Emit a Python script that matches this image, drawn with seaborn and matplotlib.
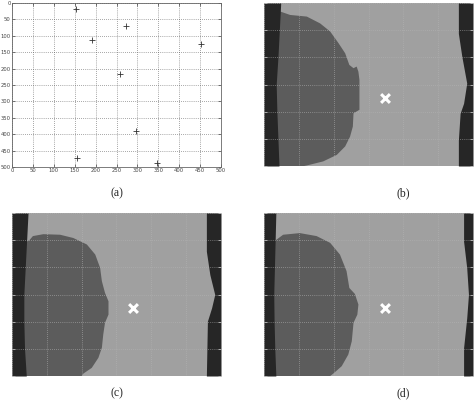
"""Segmentation maps with sample points (four panels)."""
import matplotlib
matplotlib.use("Agg")
import matplotlib.pyplot as plt
import pandas as pd
import seaborn as sns

# (a) sample points, image coordinates
pts_x = [154, 273, 191, 452, 259, 297, 156, 346]
pts_y = [19, 71, 112, 125, 215, 391, 474, 487]
a_ticks = [0, 50, 100, 150, 200, 250, 300, 350, 400, 450, 500]

# region boundaries for (b), (c), (d) in grid units (0..6, y down)
strip_y = [0, 1, 2, 3, 4, 5, 6]
b_left_x = [0.48, 0.44, 0.40, 0.35, 0.37, 0.40, 0.43]
c_left_x = [0.46, 0.42, 0.38, 0.34, 0.34, 0.36, 0.41]
d_left_x = [0.34, 0.32, 0.30, 0.28, 0.29, 0.31, 0.34]

b_right_y = [0, 1.12, 1.97, 2.95, 3.69, 4.06, 5.04, 6]
b_right_x = [5.58, 5.58, 5.68, 5.82, 5.73, 5.63, 5.58, 5.58]
c_right_y = [0, 1.41, 2.27, 3.0, 3.49, 3.98, 6]
c_right_x = [5.58, 5.58, 5.68, 5.82, 5.73, 5.61, 5.58]
d_right_y = [0, 1.04, 2.02, 3.0, 3.86, 4.96, 6]
d_right_x = [5.73, 5.73, 5.82, 5.87, 5.82, 5.73, 5.73]

b_blob_x = [0.1, 0.48, 0.75, 1.23, 1.61, 1.90, 2.14, 2.33, 2.45, 2.57, 2.66, 2.71,
            2.74, 2.74, 2.57, 2.55, 2.47, 2.33, 2.09, 1.70, 1.23, 1.15, 0.1]
b_blob_y = [0.30, 0.32, 0.44, 0.50, 0.75, 1.05, 1.48, 1.85, 2.28, 2.40, 2.34, 2.53,
            2.83, 3.93, 4.06, 4.55, 4.92, 5.28, 5.59, 5.83, 5.98, 6.0, 6.0]
c_blob_x = [0.1, 0.5, 0.6, 0.9, 1.38, 1.76, 2.15, 2.39, 2.53, 2.58, 2.67, 2.77,
            2.77, 2.67, 2.62, 2.58, 2.48, 2.29, 2.05, 2.0, 0.1]
c_blob_y = [1.3, 1.0, 0.85, 0.78, 0.80, 0.92, 1.16, 1.53, 2.02, 2.51, 2.94, 3.25,
            3.74, 4.04, 4.47, 4.96, 5.33, 5.70, 5.91, 6.0, 6.0]
d_blob_x = [0.1, 0.36, 0.55, 1.03, 1.51, 1.90, 2.18, 2.37, 2.45, 2.61, 2.71, 2.68,
            2.57, 2.52, 2.42, 2.23, 1.99, 1.9, 0.1]
d_blob_y = [1.2, 0.98, 0.80, 0.74, 0.85, 1.10, 1.53, 2.14, 2.76, 2.98, 3.37, 3.74,
            4.04, 4.72, 5.21, 5.64, 5.91, 6.0, 6.0]

target_x = [3.48]
target_y = [3.50]

DARK, BLOB, BACK = "#262626", "#5c5c5c", "#a0a0a0"

sns.set_style("ticks")
plt.rcParams["font.family"] = ["DejaVu Sans"]

fig = plt.figure(figsize=(4.74, 4.03), dpi=100)

# panel (a)
ax = fig.add_axes([12 / 474, 1 - 167 / 403, 209 / 474, 164 / 403])
df = pd.DataFrame({"x": pts_x, "y": pts_y})
sns.scatterplot(data=df, x="x", y="y", marker="+", color="#333333", s=14,
                linewidth=0.6, ax=ax)
ax.set_xlim(0, 500)
ax.set_ylim(500, 0)
ax.set_xticks(a_ticks)
ax.set_yticks(a_ticks)
ax.set_xlabel("")
ax.set_ylabel("")
ax.tick_params(direction="in", length=2.5, width=0.5, labelsize=3.8, pad=1,
               colors="#444444", top=True, right=True)
ax.grid(True, linestyle=(0, (1, 2)), linewidth=0.5, color="#555555")
for s in ax.spines.values():
    s.set_linewidth(0.6)
    s.set_color("#666666")


def region_map(rect, left_x, right_y, right_x, blob_x, blob_y):
    ax = fig.add_axes(rect)
    ax.set_facecolor(BACK)
    ax.fill(blob_x, blob_y, color=BLOB, lw=0, zorder=1)
    ax.fill_betweenx(strip_y, 0, left_x, color=DARK, lw=0, zorder=2)
    ax.fill_betweenx(right_y, right_x, 6, color=DARK, lw=0, zorder=2)
    sns.scatterplot(x=target_x, y=target_y, marker="x", color="white", s=40,
                    linewidth=2.2, ax=ax, zorder=4)
    ax.set_xlim(0, 6)
    ax.set_ylim(6, 0)
    ax.set_xticks(range(7))
    ax.set_yticks(range(7))
    ax.tick_params(direction="in", length=2.5, width=0.6, colors="#bdbdbd",
                   labelleft=False, labelbottom=False, right=True, top=False,
                   bottom=False)
    ax.grid(True, linestyle=(0, (1, 2)), linewidth=0.5, color="#b5b5b5",
            zorder=3)
    ax.set_axisbelow(False)
    for s in ax.spines.values():
        s.set_visible(False)
    return ax


region_map([264 / 474, 1 - 166 / 403, 209 / 474, 163 / 403],
           b_left_x, b_right_y, b_right_x, b_blob_x, b_blob_y)
region_map([12 / 474, 1 - 376 / 403, 209 / 474, 163 / 403],
           c_left_x, c_right_y, c_right_x, c_blob_x, c_blob_y)
region_map([264 / 474, 1 - 376 / 403, 209 / 474, 163 / 403],
           d_left_x, d_right_y, d_right_x, d_blob_x, d_blob_y)

for label, x, y in [("(a)", 117, 193), ("(b)", 403, 193),
                    ("(c)", 117, 393), ("(d)", 403, 393)]:
    fig.text(x / 474, 1 - y / 403, label, ha="center", va="center",
             family="Liberation Serif", fontsize=8.5)

fig.savefig("out.png", dpi=100)
plt.close(fig)
